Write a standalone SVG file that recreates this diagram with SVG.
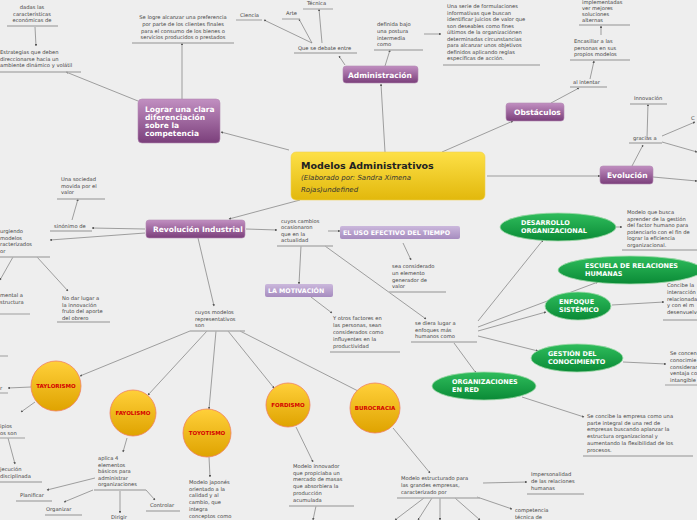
<svg xmlns="http://www.w3.org/2000/svg" width="697" height="520" viewBox="0 0 697 520">
<defs>
<linearGradient id="gy" x1="0" y1="0" x2="0" y2="1"><stop offset="0" stop-color="#fde047"/><stop offset="1" stop-color="#e2b80c"/></linearGradient>
<linearGradient id="gp" x1="0" y1="0" x2="0" y2="1"><stop offset="0" stop-color="#c18fc1"/><stop offset="1" stop-color="#7b3f7b"/></linearGradient>
<linearGradient id="gl" x1="0" y1="0" x2="0" y2="1"><stop offset="0" stop-color="#cbb8dc"/><stop offset="1" stop-color="#a68cbf"/></linearGradient>
<linearGradient id="gg" x1="0" y1="0" x2="0" y2="1"><stop offset="0" stop-color="#2fbd5c"/><stop offset="1" stop-color="#0a8a36"/></linearGradient>
<linearGradient id="go" x1="0" y1="0" x2="0" y2="1"><stop offset="0" stop-color="#ffd03a"/><stop offset="1" stop-color="#dfa300"/></linearGradient>
<marker id="a" viewBox="0 0 6 6" refX="5" refY="3" markerWidth="4" markerHeight="4" orient="auto"><path d="M0,0L6,3L0,6z" fill="#555"/></marker>
</defs>
<style>
text{font-family:"DejaVu Sans",Verdana,sans-serif;font-size:5.2px;fill:#444}
.u{stroke:#b0b0b0;stroke-width:1.3}
.c line{stroke:#666;stroke-width:0.6;marker-end:url(#a)}
.p{fill:url(#gp);stroke:#b48ab4;stroke-width:0.6}
.pt{fill:#fff;font-weight:bold;font-size:7.5px}
.l{fill:url(#gl)}
.lt{fill:#fff;font-weight:bold;font-size:6.3px}
.g{fill:url(#gg);stroke:#9ed8a8;stroke-width:0.8}
.gt{fill:#fff;font-weight:bold;font-size:6.5px}
.o{fill:url(#go);stroke:#f08060;stroke-width:0.8}
.ot{fill:#d40000;font-weight:bold;font-size:5.5px;text-anchor:middle}
</style>
<rect width="697" height="520" fill="#eeeeee"/>
<g class="c">
<line x1="35" y1="27" x2="36" y2="46"/>
<line x1="138" y1="101" x2="66" y2="72"/>
<line x1="182" y1="99" x2="182" y2="43"/>
<line x1="289" y1="150" x2="221" y2="132"/>
<line x1="312" y1="43" x2="264" y2="20"/>
<line x1="312" y1="43" x2="299" y2="19"/>
<line x1="322" y1="43" x2="319" y2="9"/>
<line x1="345" y1="65" x2="339" y2="56"/>
<line x1="385" y1="66" x2="390" y2="50"/>
<line x1="424" y1="34" x2="441" y2="34"/>
<line x1="385" y1="152" x2="381" y2="84"/>
<line x1="442" y1="152" x2="513" y2="121"/>
<line x1="551" y1="103" x2="579" y2="88"/>
<line x1="590" y1="79" x2="594" y2="61"/>
<line x1="601" y1="35" x2="601" y2="26"/>
<line x1="487" y1="176" x2="600" y2="176"/>
<line x1="632" y1="166" x2="643" y2="145"/>
<line x1="647" y1="138" x2="648" y2="104"/>
<line x1="662" y1="136" x2="695" y2="122"/>
<line x1="662" y1="142" x2="697" y2="152"/>
<line x1="653" y1="177" x2="697" y2="181"/>
<line x1="300" y1="200" x2="229" y2="219"/>
<line x1="145" y1="229" x2="92" y2="228"/>
<line x1="72" y1="220" x2="78" y2="199"/>
<line x1="145" y1="233" x2="50" y2="240"/>
<line x1="13" y1="257" x2="0" y2="280"/>
<line x1="37" y1="257" x2="68" y2="291"/>
<line x1="198" y1="238" x2="214" y2="306"/>
<line x1="190" y1="331" x2="80" y2="376"/>
<line x1="207" y1="331" x2="148" y2="395"/>
<line x1="216" y1="331" x2="209" y2="409"/>
<line x1="228" y1="331" x2="274" y2="388"/>
<line x1="240" y1="331" x2="360" y2="392"/>
<line x1="246" y1="229" x2="277" y2="230"/>
<line x1="328" y1="231" x2="340" y2="231"/>
<line x1="301" y1="246" x2="299" y2="284"/>
<line x1="325" y1="246" x2="426" y2="319"/>
<line x1="403" y1="243" x2="411" y2="260"/>
<line x1="311" y1="297" x2="332" y2="313"/>
<line x1="478" y1="321" x2="543" y2="240"/>
<line x1="478" y1="327" x2="598" y2="282"/>
<line x1="478" y1="331" x2="546" y2="312"/>
<line x1="478" y1="336" x2="538" y2="351"/>
<line x1="454" y1="343" x2="476" y2="373"/>
<line x1="616" y1="227" x2="622" y2="227"/>
<line x1="612" y1="305" x2="664" y2="302"/>
<line x1="623" y1="362" x2="666" y2="364"/>
<line x1="522" y1="397" x2="584" y2="417"/>
<line x1="393" y1="428" x2="430" y2="473"/>
<line x1="483" y1="483" x2="527" y2="482"/>
<line x1="477" y1="497" x2="512" y2="509"/>
<line x1="424" y1="498" x2="395" y2="520"/>
<line x1="432" y1="498" x2="418" y2="520"/>
<line x1="440" y1="498" x2="440" y2="520"/>
<line x1="455" y1="498" x2="480" y2="520"/>
<line x1="296" y1="427" x2="313" y2="462"/>
<line x1="316" y1="506" x2="313" y2="520"/>
<line x1="209" y1="457" x2="210" y2="477"/>
<line x1="127" y1="438" x2="123" y2="452"/>
<line x1="95" y1="478" x2="47" y2="490"/>
<line x1="93" y1="490" x2="64" y2="502"/>
<line x1="120" y1="491" x2="120" y2="513"/>
<line x1="146" y1="490" x2="155" y2="500"/>
<line x1="31" y1="387" x2="8" y2="388"/>
<line x1="35" y1="402" x2="21" y2="412"/>
<line x1="8" y1="438" x2="15" y2="464"/>
</g>
<g id="labels">
<text x="32" y="9" text-anchor="middle"><tspan x="32">dadas las</tspan><tspan x="32" dy="6.5">características</tspan><tspan x="32" dy="6.5">económicas de</tspan></text>
<line class="u" x1="7" y1="26" x2="58" y2="26"/>
<text x="0" y="54"><tspan x="0">Estrategias que deben</tspan><tspan x="0" dy="6.5">direccionarse hacia un</tspan><tspan x="0" dy="6.5">ambiente dinámico y volátil</tspan></text>
<line class="u" x1="0" y1="72" x2="81" y2="72"/>
<text text-anchor="middle"><tspan x="183" y="19">Se logre alcanzar una preferencia</tspan><tspan x="183" dy="6.8">por parte de los clientes finales</tspan><tspan x="183" dy="6.8">para el consumo de los bienes o</tspan><tspan x="183" dy="6.8">servicios producidos o prestados</tspan></text>
<line class="u" x1="132" y1="43" x2="234" y2="43"/>
<text x="240" y="17">Ciencia</text><line class="u" x1="236" y1="20" x2="262" y2="20"/>
<text x="286" y="15">Arte</text><line class="u" x1="282" y1="19" x2="300" y2="19"/>
<text x="307" y="5">Técnica</text><line class="u" x1="303" y1="9" x2="333" y2="9"/>
<text x="298" y="50">Que se debate entre</text><line class="u" x1="294" y1="53" x2="357" y2="53"/>
<text><tspan x="377" y="26">definida bajo</tspan><tspan x="377" dy="6.8">una postura</tspan><tspan x="377" dy="6.8">intermedia</tspan><tspan x="377" dy="6.8">como</tspan></text>
<line class="u" x1="374" y1="50" x2="423" y2="50"/>
<text><tspan x="447" y="8">Una serie de formulaciones</tspan><tspan x="447" dy="6.5">informativas que buscan</tspan><tspan x="447" dy="6.5">identificar juicios de valor que</tspan><tspan x="447" dy="6.5">son deseables como fines</tspan><tspan x="447" dy="6.5">últimos de la organizaciónen</tspan><tspan x="447" dy="6.5">determinadas circunstancias</tspan><tspan x="447" dy="6.5">para alcanzar unos objetivos</tspan><tspan x="447" dy="6.5">definidos aplicando reglas</tspan><tspan x="447" dy="6.5">específicas de acción.</tspan></text>
<line class="u" x1="443" y1="65" x2="540" y2="65"/>
<text><tspan x="582" y="4">implementadas</tspan><tspan x="582" dy="6">ver mejores</tspan><tspan x="582" dy="6">soluciones</tspan><tspan x="582" dy="6">alternas</tspan></text>
<line class="u" x1="579" y1="25" x2="630" y2="25"/>
<text><tspan x="574" y="43">Encasillar a las</tspan><tspan x="574" dy="6.5">personas en sus</tspan><tspan x="574" dy="6.5">propios modelos</tspan></text>
<line class="u" x1="570" y1="60" x2="630" y2="60"/>
<text x="573" y="84">al intentar</text><line class="u" x1="570" y1="87" x2="607" y2="87"/>
<text x="634" y="100">Innovación</text><line class="u" x1="630" y1="104" x2="667" y2="104"/>
<text x="633" y="140">gracias a</text><line class="u" x1="629" y1="143" x2="662" y2="143"/>
<text x="691" y="120">C</text>
<text><tspan x="61" y="181">Una sociedad</tspan><tspan x="61" dy="6.5">movida por el</tspan><tspan x="61" dy="6.5">valor</tspan></text>
<line class="u" x1="57" y1="199" x2="105" y2="199"/>
<text x="54" y="228">sinónimo de</text><line class="u" x1="50" y1="231" x2="92" y2="231"/>
<text><tspan x="0" y="233">urgiendo</tspan><tspan x="0" dy="6.5">modelos</tspan><tspan x="0" dy="6.5">racterizados</tspan><tspan x="0" dy="6.5">or</tspan></text>
<line class="u" x1="0" y1="257" x2="50" y2="257"/>
<text><tspan x="0" y="297">mental a</tspan><tspan x="0" dy="7">structura</tspan></text>
<line class="u" x1="0" y1="314" x2="30" y2="314"/>
<text><tspan x="62" y="300">No dar lugar a</tspan><tspan x="62" dy="6.5">la innovación</tspan><tspan x="62" dy="6.5">fruto del aporte</tspan><tspan x="62" dy="6.5">del obrero</tspan></text>
<line class="u" x1="57" y1="322" x2="110" y2="322"/>
<text><tspan x="195" y="314">cuyos modelos</tspan><tspan x="195" dy="6.5">representativos</tspan><tspan x="195" dy="6.5">son</tspan></text>
<line class="u" x1="190" y1="331" x2="245" y2="331"/>
<text><tspan x="281" y="223">cuyos cambios</tspan><tspan x="281" dy="6.3">ocasionaron</tspan><tspan x="281" dy="6.3">que en la</tspan><tspan x="281" dy="6.3">actualidad</tspan></text>
<line class="u" x1="277" y1="246" x2="333" y2="246"/>
<text><tspan x="392" y="268">sea considerado</tspan><tspan x="392" dy="6.8">un elemento</tspan><tspan x="392" dy="6.8">generador de</tspan><tspan x="392" dy="6.8">valor</tspan></text>
<line class="u" x1="389" y1="292" x2="446" y2="292"/>
<text><tspan x="333" y="320">Y otros factores en</tspan><tspan x="333" dy="7">las personas, sean</tspan><tspan x="333" dy="7">considerados como</tspan><tspan x="333" dy="7">influyentes en la</tspan><tspan x="333" dy="7">productividad</tspan></text>
<line class="u" x1="330" y1="352" x2="400" y2="352"/>
<text><tspan x="415" y="325">se diera lugar a</tspan><tspan x="415" dy="6.5">enfoques más</tspan><tspan x="415" dy="6.5">humanos como</tspan></text>
<line class="u" x1="411" y1="342" x2="477" y2="342"/>
<text><tspan x="627" y="214">Modelo que busca</tspan><tspan x="627" dy="6.5">aprender de la gestión</tspan><tspan x="627" dy="6.5">del factor humano para</tspan><tspan x="627" dy="6.5">potenciarlo con el fin de</tspan><tspan x="627" dy="6.5">lograr la eficiencia</tspan><tspan x="627" dy="6.5">organizacional.</tspan></text>
<line class="u" x1="622" y1="250" x2="697" y2="250"/>
<text><tspan x="667" y="287">Concibe la</tspan><tspan x="667" dy="6.8">interacción</tspan><tspan x="667" dy="6.8">relacionada</tspan><tspan x="667" dy="6.8">y con el m</tspan><tspan x="667" dy="6.8">desenvuelve</tspan></text>
<line class="u" x1="663" y1="320" x2="697" y2="320"/>
<text><tspan x="670" y="355">Se concen</tspan><tspan x="670" dy="6.8">conocimie</tspan><tspan x="670" dy="6.8">consideran</tspan><tspan x="670" dy="6.8">ventaja co</tspan><tspan x="670" dy="6.8">intangible</tspan></text>
<line class="u" x1="665" y1="385" x2="697" y2="385"/>
<text><tspan x="587" y="418">Se concibe la empresa como una</tspan><tspan x="587" dy="6.7">parte integral de una red de</tspan><tspan x="587" dy="6.7">empresas buscando aplanzar la</tspan><tspan x="587" dy="6.7">estructura organizacional y</tspan><tspan x="587" dy="6.7">aumentando la flexibilidad de los</tspan><tspan x="587" dy="6.7">procesos.</tspan></text>
<line class="u" x1="583" y1="456" x2="693" y2="456"/>
<text><tspan x="401" y="480">Modelo estructurado para</tspan><tspan x="401" dy="7">las grandes empresas,</tspan><tspan x="401" dy="7">caracterizado por</tspan></text>
<line class="u" x1="397" y1="498" x2="480" y2="498"/>
<text><tspan x="531" y="476">Impersonalidad</tspan><tspan x="531" dy="6.8">de las relaciones</tspan><tspan x="531" dy="6.8">humanas</tspan></text>
<line class="u" x1="527" y1="494" x2="584" y2="494"/>
<text><tspan x="515" y="512">competencia</tspan><tspan x="515" dy="6.5">técnica de</tspan></text>
<text><tspan x="293" y="468">Modelo innovador</tspan><tspan x="293" dy="6.7">que propiciaba un</tspan><tspan x="293" dy="6.7">mercado de masas</tspan><tspan x="293" dy="6.7">que absorbiera la</tspan><tspan x="293" dy="6.7">producción</tspan><tspan x="293" dy="6.7">acumulada</tspan></text>
<line class="u" x1="289" y1="506" x2="354" y2="506"/>
<text><tspan x="189" y="484">Modelo japonés</tspan><tspan x="189" dy="6.7">orientado a la</tspan><tspan x="189" dy="6.7">calidad y al</tspan><tspan x="189" dy="6.7">cambio, que</tspan><tspan x="189" dy="6.7">integra</tspan><tspan x="189" dy="6.7">conceptos como</tspan></text>
<text><tspan x="98" y="460">aplica 4</tspan><tspan x="98" dy="6.5">elementos</tspan><tspan x="98" dy="6.5">básicos para</tspan><tspan x="98" dy="6.5">administrar</tspan><tspan x="98" dy="6.5">organizaciones</tspan></text>
<line class="u" x1="94" y1="490" x2="146" y2="490"/>
<text x="20" y="497">Planificar</text><line class="u" x1="16" y1="501" x2="52" y2="501"/>
<text x="46" y="511">Organizar</text><line class="u" x1="45" y1="515" x2="82" y2="515"/>
<text x="111" y="519">Dirigir</text>
<text x="150" y="507">Controlar</text><line class="u" x1="146" y1="511" x2="180" y2="511"/>
<line class="u" x1="0" y1="356" x2="8" y2="356"/>
<text x="0" y="390">r</text><line class="u" x1="0" y1="393" x2="8" y2="393"/>
<text><tspan x="0" y="428">ipios</tspan><tspan x="0" dy="6.5">os son</tspan></text>
<line class="u" x1="0" y1="438" x2="25" y2="438"/>
<text><tspan x="0" y="471">jecución</tspan><tspan x="0" dy="7">disciplinada</tspan></text>
<line class="u" x1="0" y1="482" x2="42" y2="482"/>
</g>
<g id="central"><rect x="291" y="152" width="194" height="48" rx="5" fill="url(#gy)" stroke="#f0d050" stroke-width="0.6"/>
<text x="301" y="169" style="font-size:9.5px;font-weight:bold;fill:#222">Modelos Administrativos</text>
<text x="301" y="180" style="font-size:7px;font-style:italic;fill:#333">(Elaborado por: Sandra Ximena</text>
<text x="301" y="192" style="font-size:7px;font-style:italic;fill:#333">Rojas)undefined</text></g>
<g id="administracion"><rect class="p" x="343" y="66" width="75" height="17" rx="3"/><text class="pt" x="348" y="77.5">Administración</text></g>
<g id="lograr"><rect class="p" x="138" y="99" width="82" height="44" rx="4"/><text class="pt"><tspan x="145" y="112">Lograr una clara</tspan><tspan x="145" dy="8">diferenciación</tspan><tspan x="145" dy="8">sobre la</tspan><tspan x="145" dy="8">competencia</tspan></text></g>
<g id="obstaculos"><rect class="p" x="506" y="103" width="58" height="18" rx="3"/><text class="pt" x="514" y="115">Obstáculos</text></g>
<g id="evolucion"><rect class="p" x="600" y="166" width="53" height="18" rx="3"/><text class="pt" x="607" y="178">Evolución</text></g>
<g id="revolucion"><rect class="p" x="146" y="220" width="99" height="18" rx="3"/><text class="pt" x="153" y="232">Revolución Industrial</text></g>
<g id="tiempo"><rect class="l" x="340" y="226" width="120" height="13" rx="2"/><text class="lt" x="343" y="235">EL USO EFECTIVO DEL TIEMPO</text></g>
<g id="motivacion"><rect class="l" x="265" y="284" width="68" height="13" rx="2"/><text class="lt" x="268" y="293">LA MOTIVACIÓN</text></g>
<g id="do"><ellipse class="g" cx="558" cy="227" rx="58" ry="14"/><text class="gt"><tspan x="521" y="225">DESARROLLO</tspan><tspan x="521" dy="8">ORGANIZACIONAL</tspan></text></g>
<g id="erh"><ellipse class="g" cx="630" cy="270" rx="72" ry="14"/><text class="gt"><tspan x="585" y="268">ESCUELA DE RELACIONES</tspan><tspan x="585" dy="8">HUMANAS</tspan></text></g>
<g id="es"><ellipse class="g" cx="578" cy="306" rx="33" ry="14"/><text class="gt"><tspan x="559" y="304">ENFOQUE</tspan><tspan x="559" dy="8">SISTÉMICO</tspan></text></g>
<g id="gc"><ellipse class="g" cx="577" cy="358" rx="46" ry="14"/><text class="gt"><tspan x="548" y="356">GESTIÓN DEL</tspan><tspan x="548" dy="8">CONOCIMIENTO</tspan></text></g>
<g id="or"><ellipse class="g" cx="484" cy="386" rx="52" ry="14"/><text class="gt"><tspan x="452" y="384">ORGANIZACIONES</tspan><tspan x="452" dy="8">EN RED</tspan></text></g>
<g id="taylorismo"><circle class="o" cx="56" cy="386" r="25"/><text class="ot" x="56" y="388">TAYLORISMO</text></g>
<g id="fayolismo"><circle class="o" cx="133" cy="413" r="23"/><text class="ot" x="133" y="415">FAYOLISMO</text></g>
<g id="toyotismo"><circle class="o" cx="207" cy="433" r="24"/><text class="ot" x="207" y="435">TOYOTISMO</text></g>
<g id="fordismo"><circle class="o" cx="288" cy="405" r="22"/><text class="ot" x="288" y="407">FORDISMO</text></g>
<g id="burocracia"><circle class="o" cx="375" cy="408" r="25"/><text class="ot" x="375" y="410">BUROCRACIA</text></g>
</svg>
